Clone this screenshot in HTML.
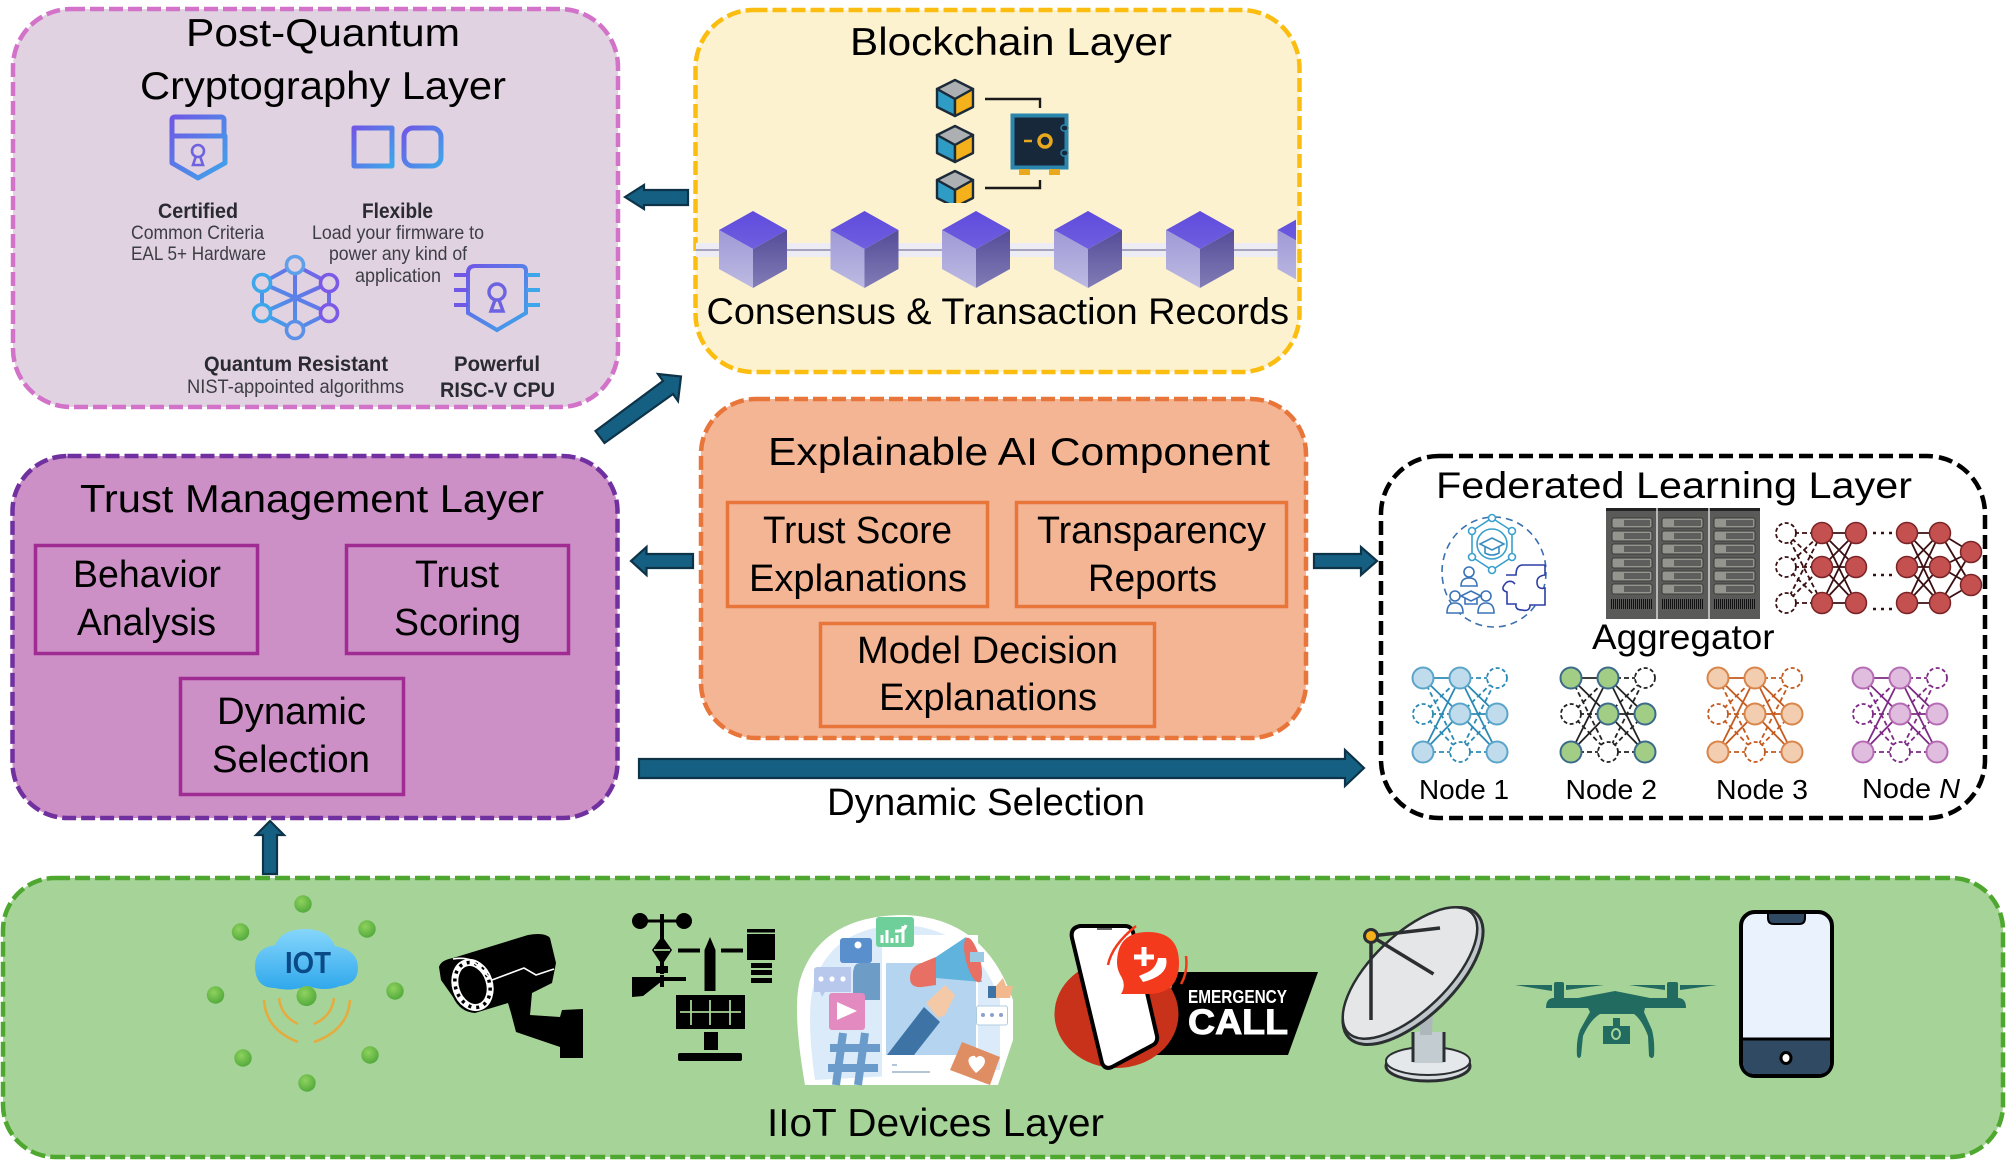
<!DOCTYPE html>
<html><head><meta charset="utf-8"><style>
html,body{margin:0;padding:0;background:#fff}
svg{display:block}
text{font-family:"Liberation Sans",sans-serif;fill:#000}
.t{font-size:39px}.b{font-size:38px}
.s{font-size:19px;fill:#3d3d46}.h{font-size:21px;font-weight:bold;fill:#2a2a33}
.ar{fill:#156082;stroke:#0e3348;stroke-width:2.2}
</style></head><body>
<svg width="2006" height="1166" viewBox="0 0 2006 1166" xmlns="http://www.w3.org/2000/svg">
<defs>
<linearGradient id="ig" x1="0" y1="0" x2="1" y2="1"><stop offset="0" stop-color="#6f58e6"/><stop offset="1" stop-color="#3ea6ea"/></linearGradient>
<linearGradient id="ig2" x1="1" y1="0" x2="0" y2="1"><stop offset="0" stop-color="#7a5ae6"/><stop offset="1" stop-color="#3ea6ea"/></linearGradient>
<linearGradient id="ctop" x1="0" y1="0" x2="0" y2="1"><stop offset="0" stop-color="#5f4bdc"/><stop offset="1" stop-color="#6f5fe0"/></linearGradient>
<linearGradient id="cleft" x1="0" y1="0" x2="0" y2="1"><stop offset="0" stop-color="#9f9ad6"/><stop offset="1" stop-color="#bdbae2"/></linearGradient>
<linearGradient id="cright" x1="0" y1="0" x2="0" y2="1"><stop offset="0" stop-color="#544c98"/><stop offset="1" stop-color="#827cb6"/></linearGradient>
<linearGradient id="cloud" x1="0" y1="0" x2="0" y2="1"><stop offset="0" stop-color="#86d6fb"/><stop offset="1" stop-color="#2fa8ec"/></linearGradient>
<radialGradient id="gd" cx=".4" cy=".35" r=".7"><stop offset="0" stop-color="#8fd25e"/><stop offset="1" stop-color="#4fa83a"/></radialGradient>
<clipPath id="cl1"><rect x="690" y="200" width="606" height="100"/></clipPath>
<clipPath id="cl2"><rect x="930" y="165" width="50" height="38"/></clipPath>
<g id="bc"><polygon points="0,211 34,230 0,249 -34,230" fill="url(#ctop)"/><polygon points="-34,230 0,249 0,288 -34,269" fill="url(#cleft)"/><polygon points="34,230 0,249 0,288 34,269" fill="url(#cright)"/></g>
<g id="sc" stroke="#1c2b3a" stroke-width="2.4" stroke-linejoin="round"><polygon points="0,-18 18,-9 0,1 -18,-9" fill="#adb0b3"/><polygon points="-18,-9 0,1 0,18 -18,9" fill="#2e9cc4"/><polygon points="18,-9 0,1 0,18 18,9" fill="#f5b11c"/></g>
<g id="nn">
<g stroke="currentColor" stroke-width="1.8" fill="none">
<path d="M0 0H37M0 0L37 36M0 74L37 0M0 74L37 36M37 0L74 36M37 0L74 74M37 36H74M37 36L74 74"/>
<path stroke-dasharray="5 3" d="M37 0H74M37 36L74 0M37 74L74 0M37 74L74 36M0 0L37 74M0 36L37 0M0 36H37M0 36L37 74M0 74H37M37 74H74"/>
</g>
<g stroke="var(--s)" stroke-width="2" fill="var(--f)"><circle cx="0" cy="0" r="10.500"/><circle cx="37" cy="0" r="10.500"/><circle cx="37" cy="36" r="10.500"/><circle cx="74" cy="36" r="10.500"/><circle cx="0" cy="74" r="10.500"/><circle cx="74" cy="74" r="10.500"/></g>
<g stroke="currentColor" stroke-width="1.8" fill="#fff" stroke-dasharray="4 2.5"><circle cx="74" cy="0" r="10"/><circle cx="0" cy="36" r="10"/><circle cx="37" cy="74" r="10"/></g>
</g>
</defs>
<rect width="2006" height="1166" fill="#fff"/>

<!-- Layer boxes -->
<rect x="13" y="9" width="605" height="398" rx="58" fill="#e0d2e0" stroke="#d272c9" stroke-width="4.5" stroke-dasharray="14 5"/>
<rect x="695.5" y="10" width="604" height="362" rx="58" fill="#fdf2d0" stroke="#fbbd10" stroke-width="4.5" stroke-dasharray="14 5"/>
<rect x="701" y="399" width="605" height="339" rx="55" fill="#f4b595" stroke="#e8763a" stroke-width="4.5" stroke-dasharray="14 5"/>
<rect x="12.500" y="456" width="605" height="362" rx="55" fill="#cc90c6" stroke="#7030a0" stroke-width="4.5" stroke-dasharray="14 5"/>
<rect x="1381" y="456" width="604" height="362" rx="58" fill="#fff" stroke="#000" stroke-width="4.500" stroke-dasharray="14 6"/>
<rect x="3" y="878" width="2000" height="279" rx="52" fill="#a6d397" stroke="#4ea72e" stroke-width="4.5" stroke-dasharray="15 5"/>

<!-- PQ text & icons -->
<text class="t" x="186" y="46" textLength="274" lengthAdjust="spacingAndGlyphs">Post-Quantum</text>
<text class="t" x="140" y="99" textLength="366" lengthAdjust="spacingAndGlyphs">Cryptography Layer</text>
<g fill="none" stroke="url(#ig)" stroke-width="5" stroke-linejoin="round">
<path d="M224 135V120Q224 117 221 117H175Q172 117 172 120V163L198 178L225 163V136H172"/>
<rect x="354" y="128" width="38" height="38"/>
<rect x="404" y="128" width="37" height="38" rx="9"/>
</g>
<g fill="none" stroke="#6d62e0" stroke-width="2.6"><circle cx="198" cy="151" r="6"/><path d="M196 156L193 165H203L200 156"/></g>
<g fill="none" stroke="url(#ig2)" stroke-width="4"><path d="M295 265L329 283V313L295 330L262 313V283ZM295 265V330M262 283L329 313M329 283L262 313"/></g>
<g fill="#e0d2e0" stroke-width="3.6"><circle cx="295" cy="265" r="8.500" stroke="#5fa0ea"/><circle cx="329" cy="283" r="8.500" stroke="#7a5ae6"/><circle cx="329" cy="313" r="8.500" stroke="#7a5ae6"/><circle cx="295" cy="330" r="8.500" stroke="#5b90e8"/><circle cx="262" cy="313" r="8.500" stroke="#3ea6ea"/><circle cx="262" cy="283" r="8.500" stroke="#3ea6ea"/></g>
<g fill="none" stroke-width="4">
<path d="M475 266H521Q526 266 526 271V313L497 330L468 313V273Q468 266 475 266Z" stroke="url(#ig)"/>
<path d="M454 275H468M454 290H468M454 305H468" stroke="#6f58e6"/>
<path d="M527 275H540M527 290H540M527 305H540" stroke="#3ea6ea"/>
<circle cx="497" cy="292" r="8" stroke="#6d62e0" stroke-width="3.4"/><path d="M495 300L491 311H503L499 300" stroke="#6d62e0" stroke-width="3.4"/>
</g>
<text class="h" x="158" y="218" textLength="80" lengthAdjust="spacingAndGlyphs">Certified</text>
<text class="s" x="131" y="239" textLength="133" lengthAdjust="spacingAndGlyphs">Common Criteria</text>
<text class="s" x="131" y="260" textLength="135" lengthAdjust="spacingAndGlyphs">EAL 5+ Hardware</text>
<text class="h" x="362" y="218" textLength="71" lengthAdjust="spacingAndGlyphs">Flexible</text>
<text class="s" x="312" y="239" textLength="172" lengthAdjust="spacingAndGlyphs">Load your firmware to</text>
<text class="s" x="329" y="260" textLength="138" lengthAdjust="spacingAndGlyphs">power any kind of</text>
<text class="s" x="355" y="282" textLength="86" lengthAdjust="spacingAndGlyphs">application</text>
<text class="h" x="204" y="371" textLength="184" lengthAdjust="spacingAndGlyphs">Quantum Resistant</text>
<text class="s" x="187" y="393" textLength="217" lengthAdjust="spacingAndGlyphs">NIST-appointed algorithms</text>
<text class="h" x="454" y="371" textLength="86" lengthAdjust="spacingAndGlyphs">Powerful</text>
<text class="h" x="440" y="397" textLength="115" lengthAdjust="spacingAndGlyphs">RISC-V CPU</text>

<!-- Blockchain -->
<text class="t" x="850" y="55" textLength="322" lengthAdjust="spacingAndGlyphs">Blockchain Layer</text>
<use href="#sc" x="955" y="98"/><use href="#sc" x="955" y="144"/>
<g clip-path="url(#cl2)"><use href="#sc" x="955" y="189"/></g>
<path d="M985 99H1040V108M985 188H1040V180" fill="none" stroke="#1a1a1a" stroke-width="2.400"/>
<rect x="1012.500" y="115.500" width="54" height="52" fill="#17283a" stroke="#2b86ad" stroke-width="4"/>
<rect x="1019" y="169" width="11" height="6" fill="#e9a91e"/><rect x="1049" y="169" width="11" height="6" fill="#e9a91e"/>
<circle cx="1045" cy="141" r="6" fill="none" stroke="#e9a91e" stroke-width="3.500"/><path d="M1024 141H1032" stroke="#e9a91e" stroke-width="2.500"/>
<rect x="1061" y="125" width="7" height="6" rx="3" fill="#17283a" stroke="#2b86ad" stroke-width="1.500"/><rect x="1061" y="150" width="7" height="6" rx="3" fill="#17283a" stroke="#2b86ad" stroke-width="1.500"/>
<rect x="696" y="243" width="600" height="14" fill="#edebf3"/><path d="M696 250H1296" stroke="#8d89ac" stroke-width="1.500"/>
<g clip-path="url(#cl1)"><use href="#bc" x="753"/><use href="#bc" x="864.500"/><use href="#bc" x="976"/><use href="#bc" x="1088"/><use href="#bc" x="1200"/><use href="#bc" x="1311.500"/></g>
<text class="t" style="font-size:37px" x="706.500" y="324" textLength="582.500" lengthAdjust="spacingAndGlyphs">Consensus &amp; Transaction Records</text>

<!-- XAI -->
<text class="t" x="768" y="465" textLength="502" lengthAdjust="spacingAndGlyphs">Explainable AI Component</text>
<g fill="none" stroke="#e8763a" stroke-width="3.500">
<rect x="727.500" y="502.500" width="260" height="104"/><rect x="1016.500" y="502.500" width="270" height="104"/><rect x="820.500" y="623.500" width="334" height="103"/>
</g>
<text class="b" x="763" y="543" textLength="189" lengthAdjust="spacingAndGlyphs">Trust Score</text>
<text class="b" x="749" y="591" textLength="218" lengthAdjust="spacingAndGlyphs">Explanations</text>
<text class="b" x="1037" y="543" textLength="229" lengthAdjust="spacingAndGlyphs">Transparency</text>
<text class="b" x="1088" y="591" textLength="129" lengthAdjust="spacingAndGlyphs">Reports</text>
<text class="b" x="857" y="663" textLength="261" lengthAdjust="spacingAndGlyphs">Model Decision</text>
<text class="b" x="879" y="710" textLength="218" lengthAdjust="spacingAndGlyphs">Explanations</text>

<!-- Trust -->
<text class="t" x="80" y="512" textLength="464" lengthAdjust="spacingAndGlyphs">Trust Management Layer</text>
<g fill="none" stroke="#a02b93" stroke-width="3.500">
<rect x="35.500" y="545.500" width="222" height="108"/><rect x="346.500" y="545.500" width="222" height="108"/><rect x="180.500" y="678.500" width="223" height="116"/>
</g>
<text class="b" x="73" y="587" textLength="148" lengthAdjust="spacingAndGlyphs">Behavior</text>
<text class="b" x="77" y="635" textLength="139" lengthAdjust="spacingAndGlyphs">Analysis</text>
<text class="b" x="415" y="587" textLength="84" lengthAdjust="spacingAndGlyphs">Trust</text>
<text class="b" x="394" y="635" textLength="127" lengthAdjust="spacingAndGlyphs">Scoring</text>
<text class="b" x="217" y="724" textLength="149" lengthAdjust="spacingAndGlyphs">Dynamic</text>
<text class="b" x="212" y="772" textLength="158" lengthAdjust="spacingAndGlyphs">Selection</text>

<!-- Arrows -->
<polygon class="ar" points="625,197 644,185 644,190 688,190 688,205 644,205 644,209"/>
<polygon class="ar" points="595.500,431 663,381 658,374 681,376.500 678,401 673,394 604.500,443"/>
<polygon class="ar" points="631,561 646.500,547 646.500,554 693,554 693,568 646.500,568 646.500,575"/>
<polygon class="ar" points="1377,561 1361,547 1361,554 1314,554 1314,568 1361,568 1361,575"/>
<polygon class="ar" points="1364,768 1345,750 1345,759 639,759 639,778 1345,778 1345,786"/>
<polygon class="ar" points="270,821 284,835 277,835 277,874 263,874 263,835 256,835"/>
<text class="b" x="827" y="815" textLength="318" lengthAdjust="spacingAndGlyphs">Dynamic Selection</text>

<!-- Federated -->
<text class="t" style="font-size:37px" x="1436" y="498" textLength="476" lengthAdjust="spacingAndGlyphs">Federated Learning Layer</text>
<text class="t" style="font-size:35px" x="1592" y="649" textLength="182.500" lengthAdjust="spacingAndGlyphs">Aggregator</text>
<!-- education icon -->
<g fill="none" stroke-width="1.600">
<ellipse cx="1494" cy="572" rx="52" ry="55" stroke="#3a70b0" stroke-dasharray="7 5"/>
<polygon points="1492,518 1512,531 1512,557 1492,570 1472,557 1472,531" stroke="#3aa0cc" fill="#fff"/>
<circle cx="1492" cy="544" r="15" stroke="#3aa0cc"/>
<g fill="#fff" stroke="#3aa0cc"><circle cx="1492" cy="518" r="3.500"/><circle cx="1512" cy="531" r="3.500"/><circle cx="1512" cy="557" r="3.500"/><circle cx="1492" cy="570" r="3.500"/><circle cx="1472" cy="557" r="3.500"/><circle cx="1472" cy="531" r="3.500"/></g>
<path d="M1480 544L1492 538L1504 544L1492 550ZM1485 547V553Q1492 557 1499 553V547" stroke="#3a8cc0"/>
<g stroke="#3a74b8" fill="#fff"><circle cx="1469" cy="572" r="5"/><path d="M1461 586Q1461 578 1469 578Q1477 578 1477 586Z"/>
<path d="M1447 613Q1447 603 1455 603Q1463 603 1463 613Z"/><circle cx="1455" cy="596" r="5"/>
<circle cx="1486" cy="596" r="5"/><path d="M1478 613Q1478 603 1486 603Q1494 603 1494 613Z"/>
<path d="M1461 596L1471 591L1481 596L1471 601ZM1465 598V604H1477V598"/></g>
<path stroke="#2d3ea5" fill="#fff" d="M1506 575H1516Q1516 565 1523 565H1545V575Q1537 576 1537 582Q1537 590 1545 588V605H1530Q1530 612 1522 610Q1515 610 1516 604H1507V592Q1500 590 1505 584Q1508 580 1513 582L1515 584"/>
</g>
<!-- server -->
<rect x="1606" y="508" width="154" height="111" fill="#5a5a58"/>
<rect x="1606" y="508" width="154" height="3" fill="#222"/>
<g fill="#95958f" stroke="#3a3a3a" stroke-width="1">
<rect x="1612" y="518" width="40" height="10" rx="2"/><rect x="1612" y="531" width="40" height="10" rx="2"/><rect x="1612" y="544" width="40" height="10" rx="2"/><rect x="1612" y="558" width="40" height="10" rx="2"/><rect x="1612" y="571" width="40" height="10" rx="2"/><rect x="1612" y="584" width="40" height="10" rx="2"/>
<rect x="1662" y="518" width="41" height="10" rx="2"/><rect x="1662" y="531" width="41" height="10" rx="2"/><rect x="1662" y="544" width="41" height="10" rx="2"/><rect x="1662" y="558" width="41" height="10" rx="2"/><rect x="1662" y="571" width="41" height="10" rx="2"/><rect x="1662" y="584" width="41" height="10" rx="2"/>
<rect x="1714" y="518" width="41" height="10" rx="2"/><rect x="1714" y="531" width="41" height="10" rx="2"/><rect x="1714" y="544" width="41" height="10" rx="2"/><rect x="1714" y="558" width="41" height="10" rx="2"/><rect x="1714" y="571" width="41" height="10" rx="2"/><rect x="1714" y="584" width="41" height="10" rx="2"/>
</g>
<g fill="#5e5e5c"><rect x="1624" y="520" width="26" height="6"/><rect x="1624" y="533" width="26" height="6"/><rect x="1624" y="546" width="26" height="6"/><rect x="1624" y="560" width="26" height="6"/><rect x="1624" y="573" width="26" height="6"/><rect x="1624" y="586" width="26" height="6"/>
<rect x="1674" y="520" width="27" height="6"/><rect x="1674" y="533" width="27" height="6"/><rect x="1674" y="546" width="27" height="6"/><rect x="1674" y="560" width="27" height="6"/><rect x="1674" y="573" width="27" height="6"/><rect x="1674" y="586" width="27" height="6"/>
<rect x="1726" y="520" width="27" height="6"/><rect x="1726" y="533" width="27" height="6"/><rect x="1726" y="546" width="27" height="6"/><rect x="1726" y="560" width="27" height="6"/><rect x="1726" y="573" width="27" height="6"/><rect x="1726" y="586" width="27" height="6"/></g>
<g stroke="#111" stroke-width="10" stroke-dasharray="1 1"><path d="M1611 604H1653M1662 604H1704M1714 604H1756"/></g>
<path d="M1657 508V619M1709 508V619" stroke="#d8d8d8" stroke-width="1.500"/>
<!-- red net -->
<g stroke="#3a0f12" stroke-width="1.800" fill="none">
<path d="M1822 533H1856M1822 533L1856 567M1822 533L1856 603M1822 567L1856 533M1822 567H1856M1822 567L1856 603M1822 603L1856 533M1822 603L1856 567M1822 603H1856"/>
<path d="M1907 533H1940M1907 533L1940 567M1907 533L1940 603M1907 567L1940 533M1907 567H1940M1907 567L1940 603M1907 603L1940 533M1907 603L1940 567M1907 603H1940M1940 533L1971 552M1940 533L1971 585M1940 567L1971 552M1940 567L1971 585M1940 603L1971 552M1940 603L1971 585"/>
<path stroke-dasharray="5 3" d="M1786 533H1822M1786 533L1822 567M1786 533L1822 603M1786 567L1822 533M1786 567H1822M1786 567L1822 603M1786 603L1822 533M1786 603L1822 567M1786 603H1822"/>
</g>
<g stroke="#3a0f12" stroke-width="2.500" stroke-dasharray="3 5" fill="none"><path d="M1873 533H1896M1873 575H1896M1873 609H1896"/></g>
<g fill="#c4504f" stroke="#7a2326" stroke-width="1.500"><circle cx="1822" cy="533" r="10.500"/><circle cx="1822" cy="567" r="10.500"/><circle cx="1822" cy="603" r="10.500"/><circle cx="1856" cy="533" r="10.500"/><circle cx="1856" cy="567" r="10.500"/><circle cx="1856" cy="603" r="10.500"/><circle cx="1907" cy="533" r="10.500"/><circle cx="1907" cy="567" r="10.500"/><circle cx="1907" cy="603" r="10.500"/><circle cx="1940" cy="533" r="10.500"/><circle cx="1940" cy="567" r="10.500"/><circle cx="1940" cy="603" r="10.500"/><circle cx="1971" cy="552" r="10.500"/><circle cx="1971" cy="585" r="10.500"/></g>
<g fill="#fff" stroke="#3a0f12" stroke-width="1.800" stroke-dasharray="4 2.500"><circle cx="1786" cy="533" r="10"/><circle cx="1786" cy="567" r="10"/><circle cx="1786" cy="603" r="10"/></g>
<!-- nodes -->
<use href="#nn" x="1423" y="678" style="color:#2b8ab5;--f:#c0dcec;--s:#5aa5c9"/>
<use href="#nn" x="1571" y="678" style="color:#222;--f:#a2cd85;--s:#3b6a8a"/>
<use href="#nn" x="1718" y="678" style="color:#c55a1e;--f:#f2cdb0;--s:#d9854a"/>
<use href="#nn" x="1863" y="678" style="color:#7d2a84;--f:#e0bcdf;--s:#b56cb4"/>
<text x="1419" y="799" font-size="28" textLength="90" lengthAdjust="spacingAndGlyphs">Node 1</text>
<text x="1565.500" y="799" font-size="28" textLength="91.500" lengthAdjust="spacingAndGlyphs">Node 2</text>
<text x="1716" y="799" font-size="28" textLength="92" lengthAdjust="spacingAndGlyphs">Node 3</text>
<text x="1862" y="798" font-size="28" textLength="98" lengthAdjust="spacingAndGlyphs">Node <tspan font-style="italic">N</tspan></text>

<!-- IIoT -->
<text class="t" x="767" y="1136" textLength="337" lengthAdjust="spacingAndGlyphs">IIoT Devices Layer</text>
<!-- iot -->
<g fill="url(#gd)"><circle cx="303" cy="904" r="8.700"/><circle cx="240.500" cy="932" r="8.700"/><circle cx="367" cy="929" r="8.700"/><circle cx="215.500" cy="995" r="8.700"/><circle cx="395" cy="991" r="8.700"/><circle cx="243" cy="1058" r="8.700"/><circle cx="370" cy="1055" r="8.700"/><circle cx="307" cy="1083" r="8.700"/></g>
<path d="M275 988Q255 988 255 966Q255 948 275 945Q282 929 305 929Q328 929 335 946Q358 950 358 968Q358 984 340 986Q325 992 308 986Q290 992 275 988Z" fill="url(#cloud)"/>
<text x="285" y="973" font-size="31" font-weight="bold" style="fill:#0a4a86" textLength="46" lengthAdjust="spacingAndGlyphs">IOT</text>
<g fill="none" stroke="#e6ab3c" stroke-width="2.500"><path d="M264 1000Q266 1030 298 1042M350 1000Q348 1030 314 1042M279 998Q281 1016 298 1024M334 998Q332 1016 314 1024"/></g>
<circle cx="306.500" cy="996" r="10" fill="url(#gd)"/>
<!-- camera -->
<path d="M453 958L528 935Q545 932 550 938L556 963L552 983L532 993L530 1015L560 1017L562 1010L583 1009V1058H560V1047L516 1032L511 1013L508 1003L475 1013Q460 1012 453 997L441 980L439 967Q441 960 453 958Z" fill="#000"/>
<ellipse cx="472.500" cy="985" rx="17" ry="23" transform="rotate(-18 472.500 985)" fill="none" stroke="#fff" stroke-width="7"/>
<ellipse cx="472.500" cy="985" rx="17" ry="23" transform="rotate(-18 472.500 985)" fill="none" stroke="#000" stroke-width="3.500" stroke-dasharray="3 5"/>
<path d="M492 980L524 968L536 975L554 969M453 959Q465 957 473 961L492 980" fill="none" stroke="#fff" stroke-width="1.600"/>
<!-- weather -->
<g fill="#000"><circle cx="640" cy="921" r="8"/><circle cx="684" cy="921" r="8"/><rect x="640" y="919.500" width="44" height="3"/><rect x="660" y="914" width="4" height="60"/><polygon points="662,936 672,950 662,965 652,950"/><rect x="656" y="966" width="12" height="7"/>
<path d="M632 977H686V981H662L643 996L632 997Z"/><rect x="660" y="975" width="4" height="12"/>
<rect x="678" y="948.500" width="22" height="4"/><rect x="721" y="948.500" width="22" height="4"/>
<polygon points="710,937 715.500,950 715.500,991 704.500,991 704.500,950"/>
<rect x="747" y="929" width="28" height="3.500"/><rect x="747" y="934" width="28" height="26"/><rect x="751" y="963" width="21" height="5"/><rect x="751" y="970" width="21" height="5"/><rect x="751" y="978" width="21" height="5"/>
<rect x="676" y="995" width="69" height="34"/><rect x="704" y="1032" width="14" height="18"/><rect x="678" y="1053" width="64" height="8" rx="2"/></g>
<path d="M680 1012H741M691 1000V1025M710 1000V1025M730 1000V1025M654 950H670" stroke="#a6d397" stroke-width="1.800"/>
<!-- social -->
<path d="M805 1085Q792 1010 800 980Q820 915 905 915Q985 918 1013 1000V1040L998 1085Z" fill="#fff"/>
<path d="M815 1080Q805 1010 815 980Q835 925 905 925Q975 930 1000 1000V1070Z" fill="#dcebf9"/>
<rect x="882" y="935" width="96" height="148" fill="#fff"/>
<rect x="886" y="963" width="90" height="92" fill="#b5d4ef"/>
<path d="M892 1065H897M892 1072H930" stroke="#9ab4cc" stroke-width="1.500"/>
<rect x="876" y="917" width="38" height="30" rx="3" fill="#6fcf9a"/>
<path d="M882 943V935M887 943V930M892 943V938M897 943V935M903 943V926M906 925Q904 932 895 931" stroke="#fff" stroke-width="3" fill="none"/>
<path d="M860 963H880V1000H853V975Q853 963 860 963" fill="#6d9dc6"/>
<rect x="840" y="938" width="32" height="25" rx="3" fill="#5a8fce"/><circle cx="858" cy="945" r="3.500" fill="#fff"/>
<path d="M814 970Q814 967 818 967H851V992H825L822 997L820 992H814Z" fill="#b7c8ec"/>
<circle cx="821" cy="979" r="2.600" fill="#fff"/><circle cx="832" cy="979" r="2.600" fill="#fff"/><circle cx="843" cy="979" r="2.600" fill="#fff"/>
<rect x="829" y="993" width="36" height="37" rx="3" fill="#e38ac0"/>
<polygon points="837,1002 857,1011 837,1020" fill="#fff"/>
<g stroke="#6a9bca" stroke-width="8"><path d="M843 1033L836 1085M865 1033L858 1085M830 1048H880M828 1068H878"/></g>
<polygon points="887,1055 924,1007 940,1022 914,1055" fill="#3e73a5"/>
<path d="M926 1003L945 985L955 995L945 1015L938 1018Z" fill="#f3c9a8"/>
<path d="M919 964Q910 968 910 978Q910 988 922 987L936 985L936 957Z" fill="#e76f64"/>
<polygon points="936,957 966,937 982,982 936,978" fill="#5fb3dd"/>
<ellipse cx="973" cy="960" rx="7" ry="23" fill="#e76f64" transform="rotate(-15 973 960)"/>
<rect x="970" y="952" width="14" height="10" fill="#9cc9e2"/>
<rect x="976.500" y="1006" width="31" height="19" rx="2" fill="#fff" stroke="#b0cde0"/><circle cx="983" cy="1015" r="2" fill="#8aa0cc"/><circle cx="992" cy="1015" r="2" fill="#8aa0cc"/><circle cx="1001" cy="1015" r="2" fill="#8aa0cc"/>
<rect x="988" y="986" width="8" height="12" fill="#3e73a5"/><path d="M996 986L1003 978L1006 986H1013L1010 998H996Z" fill="#f2b98e"/>
<polygon points="962,1042 1000,1057 990,1085 950,1070" fill="#df8d63"/>
<path d="M976 1073Q965 1062 970 1057Q975 1054 976 1058Q980 1054 984 1058Q988 1064 976 1073Z" fill="#fff"/>
<!-- emergency -->
<polygon points="1175,972 1318,972 1288,1055 1156,1055" fill="#000"/>
<ellipse cx="1116.500" cy="1014" rx="62" ry="54" fill="#c8311a"/>
<path d="M1080 926H1125Q1131 926 1133 932L1157 1036Q1158 1042 1153 1045L1112 1067Q1105 1070 1102 1063L1072 938Q1070 928 1080 926Z" fill="#fff" stroke="#000" stroke-width="4"/>
<path d="M1097 929H1112" stroke="#333" stroke-width="1.500"/>
<path d="M1136 926Q1112 945 1108 965" fill="none" stroke="#f43a1c" stroke-width="2.500"/>
<path d="M1186 956Q1188 972 1181 984" fill="none" stroke="#f43a1c" stroke-width="2.500"/>
<path d="M1148 932Q1179 932 1179 963Q1179 994 1148 994L1121 994Q1126 986 1122 978Q1117 970 1117 963Q1117 932 1148 932Z" fill="#f43a1c"/>
<path d="M1144 947V966M1134 957H1154" stroke="#fff" stroke-width="5"/>
<path d="M1166 958Q1170 975 1143 982L1139 976L1148 972Q1156 968 1158 958Z" fill="#fff"/>
<text x="1188" y="1003" font-size="18" font-weight="bold" style="fill:#fff" textLength="99" lengthAdjust="spacingAndGlyphs">EMERGENCY</text>
<text x="1188" y="1034" font-size="35" font-weight="bold" style="fill:#fff;stroke:#fff;stroke-width:1" textLength="100" lengthAdjust="spacingAndGlyphs">CALL</text>
<!-- dish -->
<ellipse cx="1428" cy="1066" rx="42" ry="15" fill="#d7dcdf" stroke="#2b2f31" stroke-width="3"/>
<ellipse cx="1428" cy="1061" rx="42" ry="14" fill="#e4e8ea" stroke="#2b2f31" stroke-width="2"/>
<rect x="1413" y="1032" width="31" height="31" fill="#c2ccd1"/><path d="M1413 1032V1062M1444 1032V1062" stroke="#2b2f31" stroke-width="3"/>
<polygon points="1420,1035 1432,1035 1433,1010 1420,1010" fill="#aeb8bc"/>
<ellipse cx="1413" cy="976" rx="89" ry="41" transform="rotate(-44 1413 976)" fill="#bfc7ca" stroke="#2b2f31" stroke-width="3"/>
<ellipse cx="1410" cy="973" rx="86" ry="38" transform="rotate(-44 1410 973)" fill="#e4e6e7" stroke="#2b2f31" stroke-width="2.500"/>
<path d="M1371 936L1440 928M1371 936L1433.500 974M1371 936V1020" stroke="#2b2f31" stroke-width="3.500" fill="none"/>
<circle cx="1371" cy="936" r="6.500" fill="#f5b11c" stroke="#2b2f31" stroke-width="3"/>
<!-- drone -->
<g fill="#226b60">
<polygon points="1515,985 1552,985 1552,991"/><polygon points="1566,990 1566,985 1604,985"/><polygon points="1629,985 1665,985 1665,990"/><polygon points="1680,990 1680,985 1717,985"/>
<rect x="1554" y="982" width="10" height="18" rx="2"/><rect x="1667" y="982" width="11" height="18" rx="2"/>
<path d="M1546 1008Q1546 998 1554 998H1578L1615 991L1650 998H1678Q1686 998 1686 1008H1645L1644 1012L1652 1030Q1655 1042 1654 1056Q1652 1060 1649 1056L1648 1036Q1642 1020 1634 1014H1600Q1590 1020 1583 1036L1581 1056Q1579 1060 1577 1056Q1576 1040 1580 1030L1590 1012L1588 1008Z"/>
<rect x="1603" y="1026" width="27" height="18"/><rect x="1613" y="1018" width="7" height="9"/>
</g>
<ellipse cx="1616" cy="1034" rx="4" ry="5" fill="none" stroke="#a6d397" stroke-width="2"/>
<!-- phone -->
<rect x="1741" y="912" width="91" height="164" rx="14" fill="#eaf3fd" stroke="#000" stroke-width="4"/>
<path d="M1743 1039H1830V1062Q1830 1074 1818 1074H1755Q1743 1074 1743 1062Z" fill="#2f4a62"/>
<path d="M1742 1039H1831" stroke="#000" stroke-width="3"/>
<path d="M1768 913H1805V918Q1805 924 1799 924H1774Q1768 924 1768 918Z" fill="#2f4a62" stroke="#000" stroke-width="2"/>
<ellipse cx="1786" cy="1058" rx="5" ry="5.500" fill="#fff" stroke="#000" stroke-width="3"/>
</svg>
</body></html>
